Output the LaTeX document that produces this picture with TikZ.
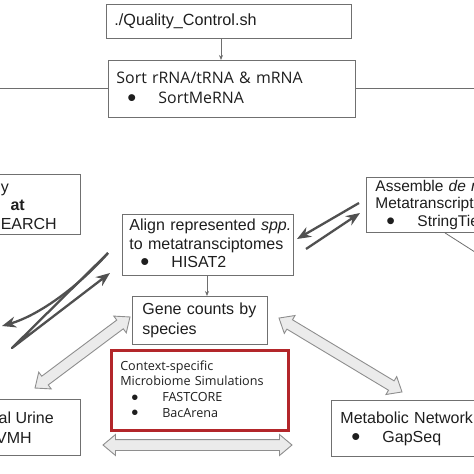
\documentclass[tikz,border=0pt]{standalone}
\usepackage{fontspec}
\setmainfont{Liberation Sans}
\newfontfamily\osans{Open Sans}
\usetikzlibrary{arrows.meta,shapes.arrows,calc}
\definecolor{boxgray}{HTML}{707070}
\definecolor{linegray}{HTML}{6E6E6E}
\definecolor{darkg}{HTML}{505050}
\definecolor{hgray}{HTML}{8E8E8E}
\definecolor{hfill}{HTML}{EBEBEB}
\definecolor{redb}{HTML}{B3262A}
\definecolor{txt}{HTML}{1E1E1E}
\newcommand\bulletmark{{\rmfamily\raisebox{-0.2em}{\scalebox{1.6}{•}}}}
\newcommand\bitem[1]{\makebox[42pt][l]{\hspace{11pt}\bulletmark}#1}
\tikzset{
  box/.style={draw=boxgray, line width=0.9pt, rectangle, anchor=north west, align=left, inner ysep=0pt, text=txt},
  frag/.style={anchor=base east, inner sep=0pt, text=txt, font=\fontsize{16}{19}\selectfont},
  thinline/.style={draw=linegray, line width=0.8pt},
  thinarrow/.style={thinline, -{Stealth[length=5pt,width=4pt]}},
  darkarrow/.style={draw=darkg, line width=2.3pt, -{Stealth[length=14pt,width=11pt]}},
  hollow/.style={double arrow, draw=hgray, fill=hfill, line width=0.9pt, inner xsep=0pt, inner ysep=5pt, double arrow head extend=5pt, double arrow tip angle=80, minimum height=#1}
}
\begin{document}
\begin{tikzpicture}[x=1pt,y=-1pt]
\useasboundingbox (0,0) rectangle (474,474);
% boxes
\node[box, minimum width=245pt, minimum height=34pt, text width=229pt, inner xsep=8pt, font=\fontsize{16.2}{19}\selectfont] (q) at (106,4) {./Quality\_Control.sh};
\node[box, minimum width=247pt, minimum height=57pt, text width=231pt, inner xsep=8pt, font=\osans\fontsize{15.9}{20}\selectfont] (s) at (108,60) {\mbox{Sort rRNA/tRNA \& mRNA}\\\bitem{SortMeRNA}};
\node[box, minimum width=90pt, minimum height=60pt] (lb) at (-10,174) {};
\node[frag] (lb1) at (9,192) {y};
\node[frag] (lb2) at (25,210) {\textbf{at}};
\node[frag] (lb3) at (57,229) {EARCH};
\node[box, minimum width=171pt, minimum height=61pt, text width=157pt, inner xsep=7pt, font=\fontsize{16}{18.5}\selectfont] (al) at (122,214) {\mbox{Align represented \textit{spp.}}\\\mbox{to metatransciptomes}\\\bitem{HISAT2}};
\node[box, minimum width=135pt, minimum height=48pt, text width=115pt, inner xsep=10pt, font=\fontsize{16}{20}\selectfont] (g) at (132,296) {\mbox{Gene counts by}\\species};
\node[box, minimum width=130pt, minimum height=55pt, text width=112pt, inner xsep=9pt, font=\fontsize{15.5}{17.5}\selectfont] (m) at (366,177) {\mbox{Assemble \textit{de n}}\\Metatranscript\\\bitem{StringTie}};
\node[box, draw=redb, line width=2.5pt, minimum width=177pt, minimum height=80pt, text width=159pt, inner xsep=9pt, font=\osans\fontsize{12.6}{15.7}\selectfont] (r) at (110,349) {Context-specific\\\mbox{Microbiome Simulations}\\\bitem{FASTCORE}\\\bitem{BacArena}};
\node[box, minimum width=90pt, minimum height=56pt] (u) at (-10,399) {};
\node[frag] (u1) at (54,423) {al Urine};
\node[frag] (u2) at (32,443) {VMH};
\node[box, minimum width=160pt, minimum height=56pt, text width=142pt, inner xsep=9pt, font=\fontsize{16}{19}\selectfont] (n) at (331,400) {\mbox{Metabolic Network}\\\bitem{GapSeq}};
% thin connectors
\coordinate (qx) at (221,0);
\draw[thinarrow] (q.south -| qx) -- (s.north -| qx);
\coordinate (ax) at (207,0);
\draw[thinarrow] (al.south -| ax) -- (g.north -| ax);
\coordinate (hl) at (0,88);
\coordinate (hr) at (474,88);
\draw[thinline] (hl) -- (s.west |- hl);
\draw[thinline] (s.east |- hr) -- (hr);
\coordinate (mx) at (445,0);
\coordinate (mo) at (478,254);
\draw[thinline] (m.south -| mx) -- (mo);
% dark arrows
\coordinate (ra1) at (359,203);
\coordinate (ra2) at (297,239);
\coordinate (rb1) at (306,249);
\coordinate (rb2) at (360,213);
\draw[darkarrow] (ra1) -- (ra2);
\draw[darkarrow] (rb1) -- (rb2);
\coordinate (la1) at (108,253);
\coordinate (la2) at (2,326);
\coordinate (lb0) at (12,348);
\coordinate (lbe) at (110,273);
\draw[darkarrow] (la1) .. controls (80,285) and (40,315) .. (la2);
\draw[darkarrow, line join=round] (la1) -- (lb0) -- (lbe);
% hollow double arrows
\node[hollow=118.6pt, rotate=36.8] (h1) at (82.5,352.5) {};
\node[hollow=143.5pt, rotate=-31] (h2) at (340.5,355) {};
\node[hollow=189pt] (h3) at (197.5,445) {};
\end{tikzpicture}
\end{document}
